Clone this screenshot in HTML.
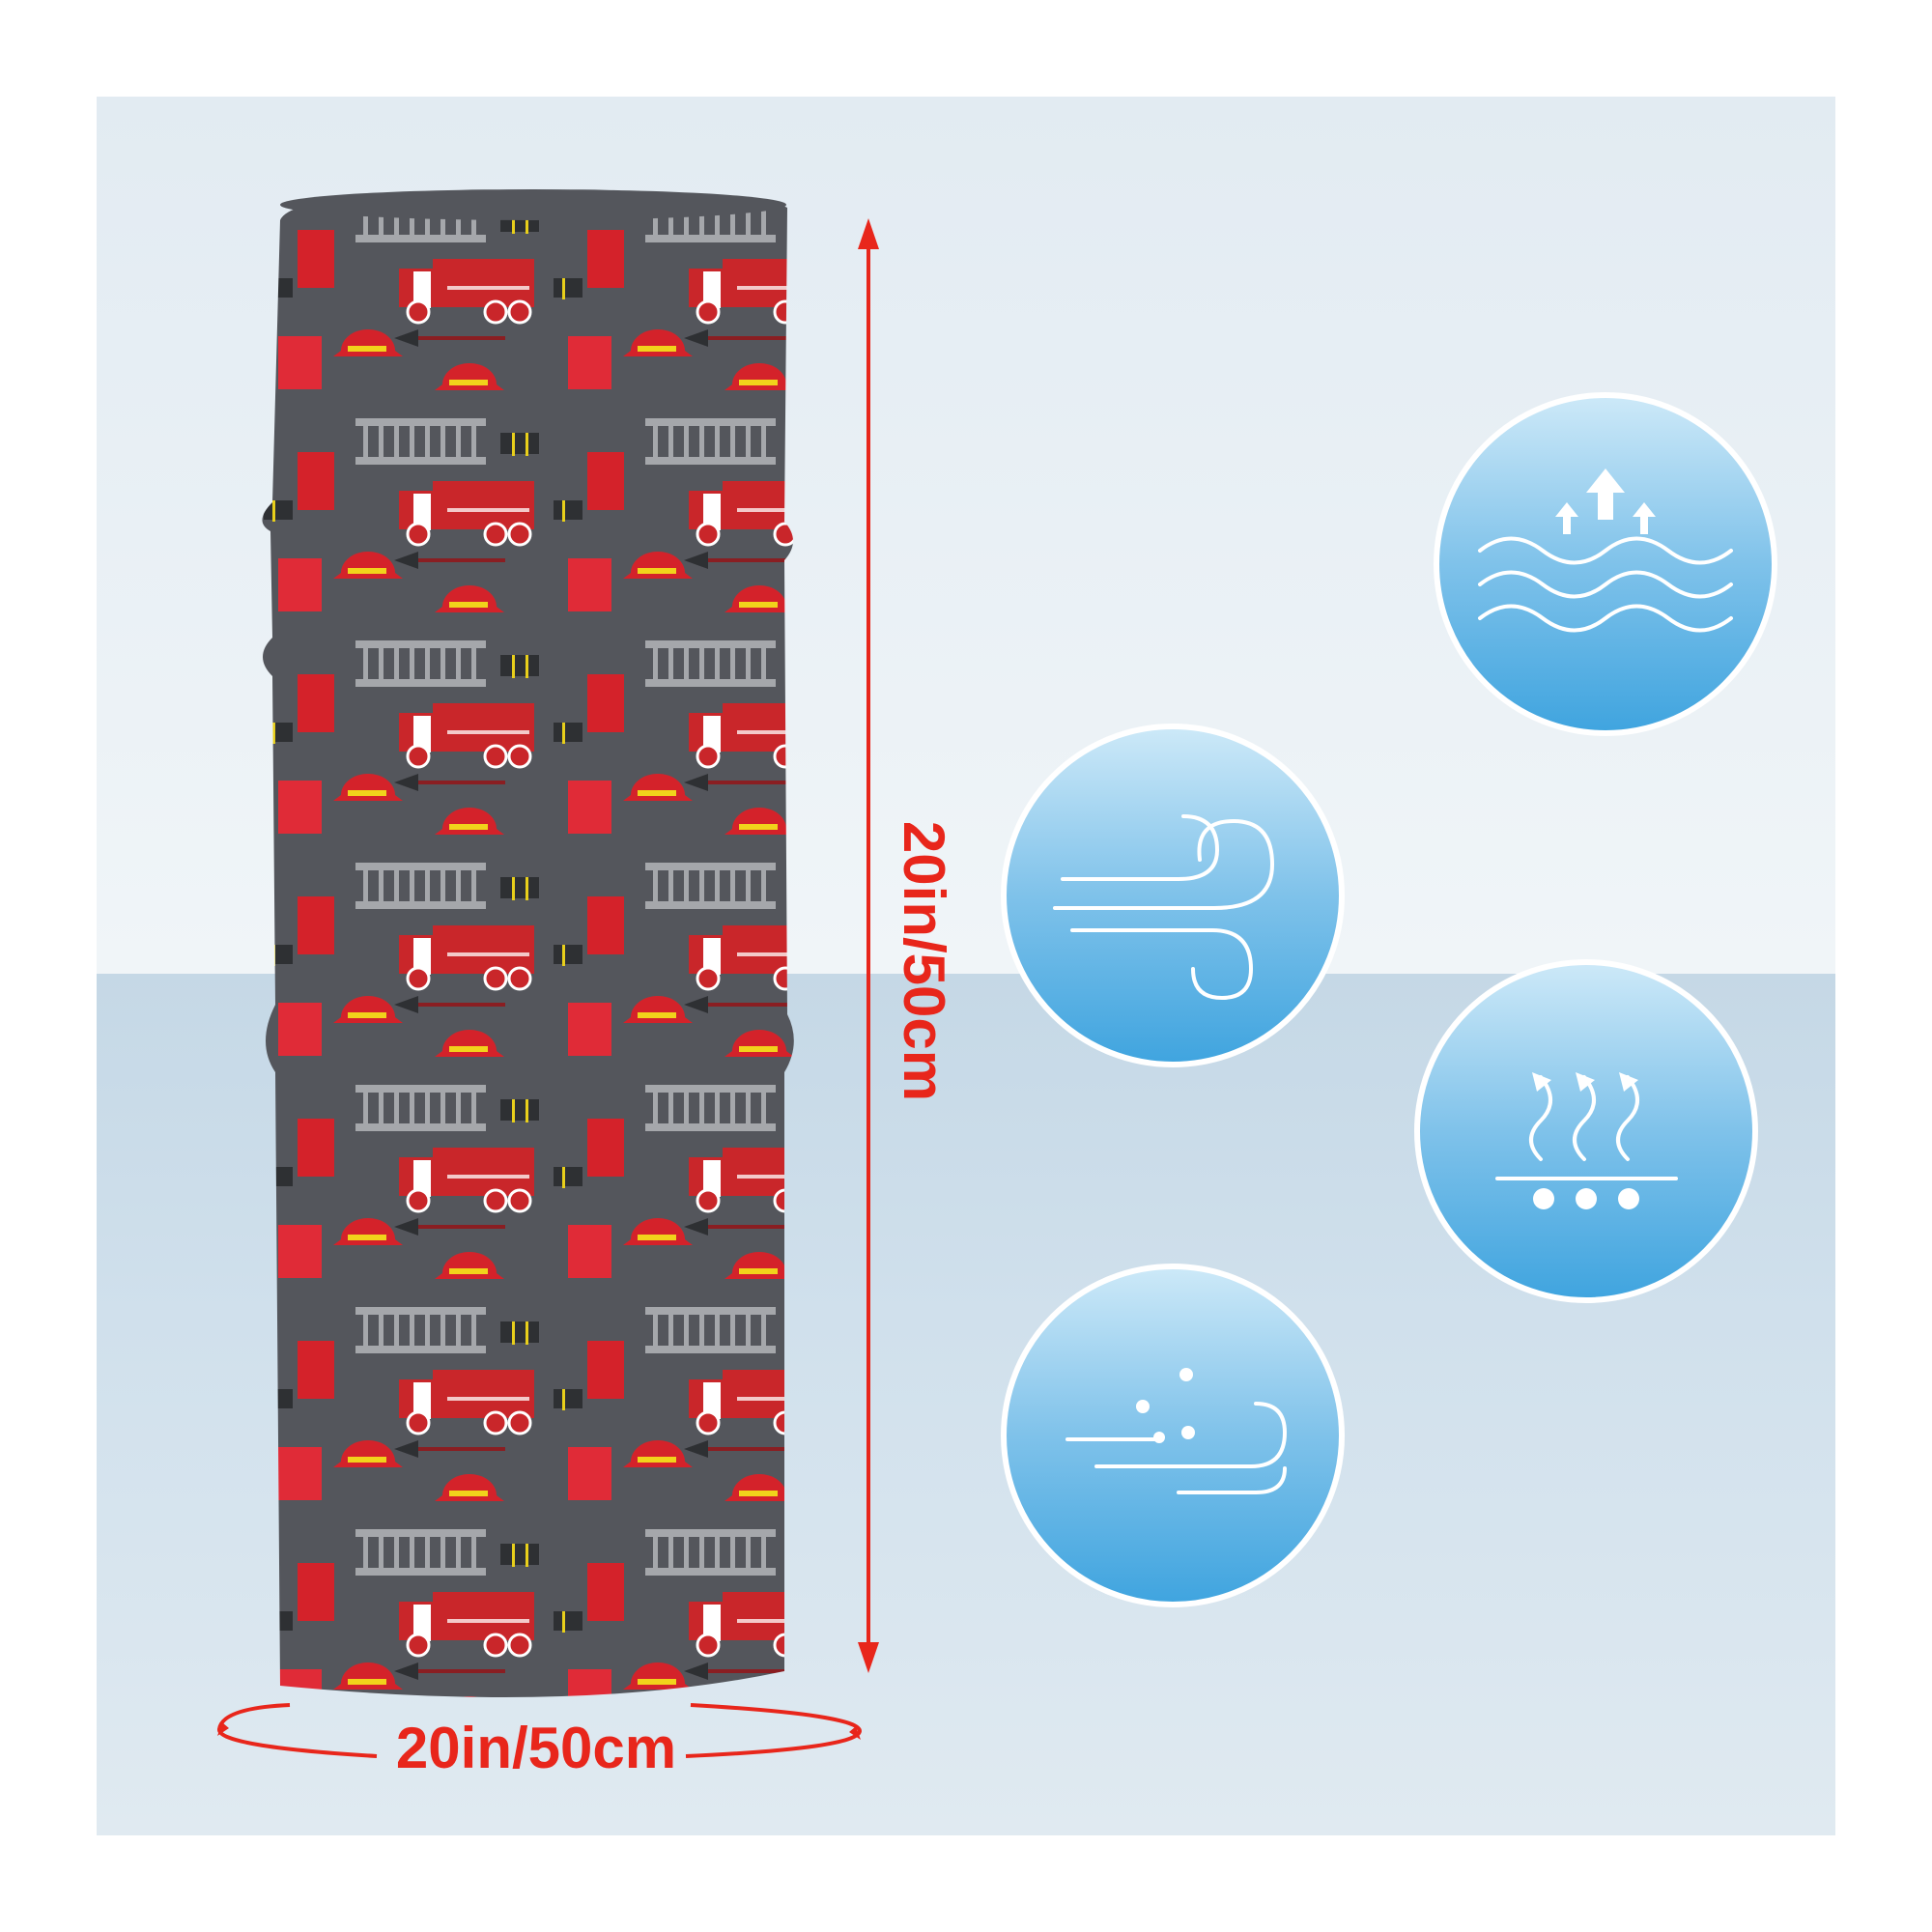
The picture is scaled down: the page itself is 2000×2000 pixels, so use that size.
<!DOCTYPE html>
<html><head><meta charset="utf-8"><style>
html,body{margin:0;padding:0;background:#fff;width:2000px;height:2000px;overflow:hidden}
</style></head><body>
<svg width="2000" height="2000" viewBox="0 0 2000 2000" xmlns="http://www.w3.org/2000/svg">
<defs>
<linearGradient id="sky" x1="0" y1="0" x2="0" y2="1">
<stop offset="0" stop-color="#e2ebf2"/><stop offset="0.5" stop-color="#f0f5f8"/><stop offset="1" stop-color="#f7fafc"/>
</linearGradient>
<linearGradient id="sea" x1="0" y1="0" x2="0" y2="1">
<stop offset="0" stop-color="#c5d8e6"/><stop offset="0.4" stop-color="#d0e0ec"/><stop offset="1" stop-color="#e0eaf1"/>
</linearGradient>
<linearGradient id="ball" x1="0" y1="0" x2="0" y2="1">
<stop offset="0" stop-color="#cde9f8"/><stop offset="0.5" stop-color="#7fc2ea"/><stop offset="1" stop-color="#3fa4df"/>
</linearGradient>
<pattern id="pat" width="300" height="230" patternUnits="userSpaceOnUse" x="268" y="198">
<rect width="300" height="230" fill="#54565c"/>
<rect x="100" y="5" width="135" height="8" fill="#a5a7ab"/><rect x="100" y="45" width="135" height="8" fill="#a5a7ab"/>
<g fill="#a5a7ab"><rect x="108" y="13" width="5" height="32"/><rect x="124" y="13" width="5" height="32"/><rect x="140" y="13" width="5" height="32"/><rect x="156" y="13" width="5" height="32"/><rect x="172" y="13" width="5" height="32"/><rect x="188" y="13" width="5" height="32"/><rect x="204" y="13" width="5" height="32"/><rect x="220" y="13" width="5" height="32"/></g>
<rect x="180" y="70" width="105" height="50" fill="#c9262a"/>
<rect x="145" y="80" width="40" height="40" fill="#c9262a"/><rect x="160" y="83" width="18" height="38" fill="#fff"/>
<rect x="195" y="98" width="85" height="4" fill="#f3c9c9"/>
<circle cx="165" cy="125" r="11" fill="#c9262a" stroke="#fff" stroke-width="3"/><circle cx="245" cy="125" r="11" fill="#c9262a" stroke="#fff" stroke-width="3"/><circle cx="270" cy="125" r="11" fill="#c9262a" stroke="#fff" stroke-width="3"/>
<rect x="40" y="40" width="38" height="60" fill="#d4222a"/>
<rect x="20" y="150" width="45" height="55" fill="#e02b37"/>
<path d="M85 165 a28 22 0 0 1 56 0 l8 6 h-72z" fill="#d4222a"/><rect x="92" y="160" width="40" height="6" fill="#f1d31b"/>
<path d="M190 200 a28 22 0 0 1 56 0 l8 6 h-72z" fill="#d4222a"/><rect x="197" y="195" width="40" height="6" fill="#f1d31b"/>
<rect x="5" y="90" width="30" height="20" fill="#2e3033"/><rect x="14" y="90" width="3" height="22" fill="#e8cf1b"/>
<rect x="250" y="20" width="40" height="22" fill="#2e3033"/><rect x="262" y="20" width="3" height="24" fill="#e8cf1b"/><rect x="276" y="20" width="3" height="24" fill="#e8cf1b"/>
<rect x="165" y="150" width="90" height="4" fill="#8a1e22"/><path d="M140 152 l25 -9 v18z" fill="#2e3033"/>
</pattern>
</defs>
<rect x="100" y="100" width="1800" height="1800" fill="url(#sky)"/>
<rect x="100" y="1008" width="1800" height="892" fill="url(#sea)"/>
<path d="M290 228 Q300 200 500 198 Q780 196 815 215 L812 540 Q830 560 812 580 L815 1050 Q830 1080 812 1110 L812 1730 Q600 1775 290 1745 L285 1110 Q265 1080 285 1040 L282 700 Q262 680 282 660 L280 550 Q262 540 282 520 Z" fill="url(#pat)"/>
<ellipse cx="552" cy="212" rx="262" ry="16" fill="#54565c"/>
<line x1="899" y1="240" x2="899" y2="1718" stroke="#e8261b" stroke-width="4"/>
<path d="M899 226 l-11 32 h22z M899 1732 l-11 -32 h22z" fill="#e8261b"/>
<text x="0" y="0" transform="translate(936,995) rotate(90)" text-anchor="middle" font-family="Liberation Sans, sans-serif" font-weight="bold" font-size="60" fill="#e8261b">20in/50cm</text>
<path d="M390 1818 Q225 1808 227 1790 Q230 1768 300 1765 M715 1765 Q890 1775 890 1792 Q888 1810 710 1818" fill="none" stroke="#e8261b" stroke-width="4"/>
<path d="M230 1783 l-5 14 l12 -8z M886 1787 l5 14 l-12 -8z" fill="#e8261b"/>
<text x="555" y="1830" text-anchor="middle" font-family="Liberation Sans, sans-serif" font-weight="bold" font-size="60" fill="#e8261b">20in/50cm</text>
<g stroke="#fff" fill="url(#ball)" stroke-width="6">
<circle cx="1662" cy="584" r="175"/>
<circle cx="1214" cy="927" r="175"/>
<circle cx="1642" cy="1171" r="175"/>
<circle cx="1214" cy="1486" r="175"/>
</g>
<g fill="none" stroke="#fff" stroke-width="4" stroke-linecap="round">
<path d="M1532 570 q32 -25 65 0 t65 0 t65 0 t65 0"/>
<path d="M1532 605 q32 -25 65 0 t65 0 t65 0 t65 0"/>
<path d="M1532 640 q32 -25 65 0 t65 0 t65 0 t65 0"/>
<path d="M1092 940 h165 q60 0 60 -45 q0 -45 -40 -45 q-40 0 -35 40"/>
<path d="M1100 910 h120 q40 0 40 -30 q0 -35 -35 -35"/>
<path d="M1110 963 h145 q40 0 40 40 q0 30 -30 30 q-30 0 -30 -30"/>
<path d="M1550 1220 h185"/>
<path d="M1595 1200 q-20 -20 0 -40 q20 -20 0 -45"/>
<path d="M1640 1200 q-20 -20 0 -40 q20 -20 0 -45"/>
<path d="M1685 1200 q-20 -20 0 -40 q20 -20 0 -45"/>
<path d="M1105 1490 h90"/>
<path d="M1135 1518 h160 q35 0 35 -35 q0 -30 -30 -30"/>
<path d="M1220 1545 h80 q30 0 30 -25"/>
</g>
<g fill="#fff">
<path d="M1662 485 l-20 25 h12 v28 h16 v-28 h12z"/>
<path d="M1622 520 l-12 15 h8 v18 h8 v-18 h8z"/>
<path d="M1702 520 l-12 15 h8 v18 h8 v-18 h8z"/>
<circle cx="1598" cy="1241" r="11"/><circle cx="1642" cy="1241" r="11"/><circle cx="1686" cy="1241" r="11"/>
<path d="M1586 1110 l20 8 l-15 12z M1631 1110 l20 8 l-15 12z M1676 1110 l20 8 l-15 12z"/>
<circle cx="1228" cy="1423" r="7"/><circle cx="1183" cy="1456" r="7"/><circle cx="1230" cy="1483" r="7"/><circle cx="1200" cy="1488" r="6"/>
</g>
</svg>
</body></html>
